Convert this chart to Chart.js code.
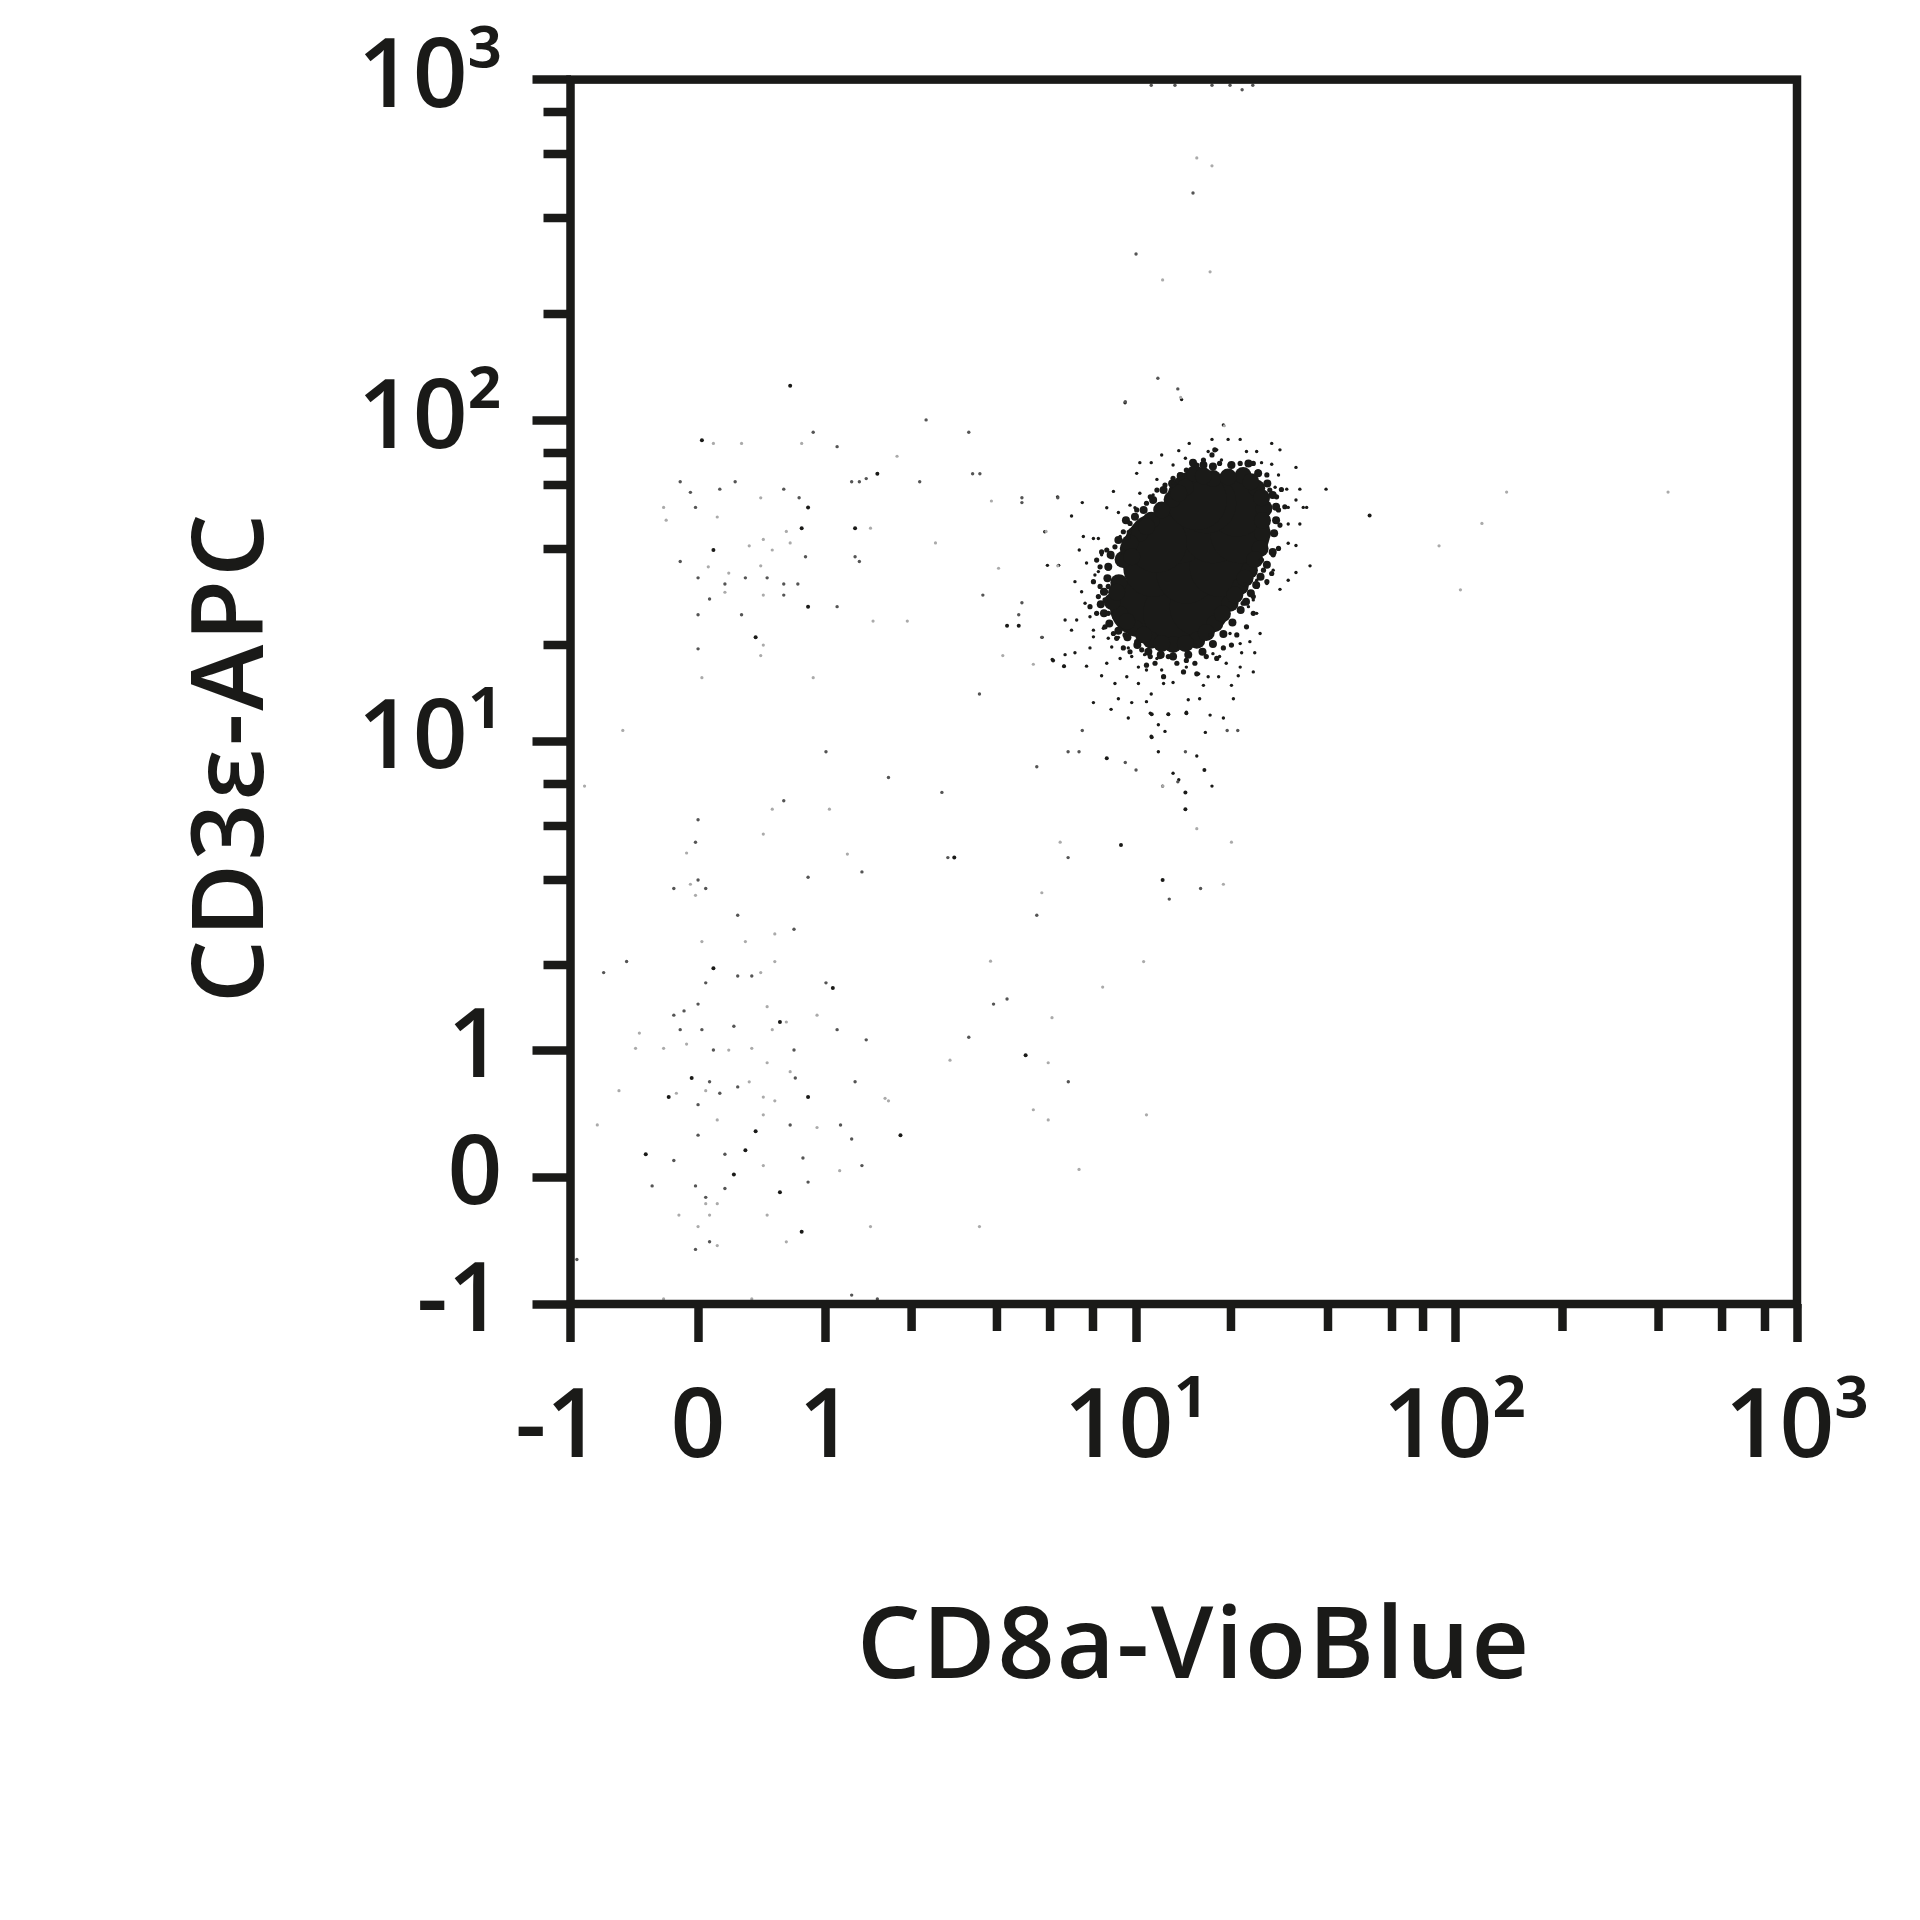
<!DOCTYPE html>
<html><head><meta charset="utf-8">
<style>html,body{margin:0;padding:0;background:#fff}canvas{display:block}</style>
<script src="https://cdn.jsdelivr.net/npm/chart.js@4/dist/chart.umd.js"></script>
</head><body><canvas id="c" width="1920" height="1920"></canvas>
<script>
// Axis titles
const xTitle = 'CD8a-VioBlue';
const yTitle = 'CD3ε-APC';
// Axis tick values
const majorTicks = [-1, 0, 1, 10, 100, 1000];
const minorTicks = [2, 4, 6, 8, 20, 40, 60, 80, 200, 400, 600, 800];
const tickLabels = {'-1': '-1', '0': '0', '1': '1', '10': '10¹', '100': '10²', '1000': '10³'};
// The display is biexponential: values and where they fall along each axis (0..1)
const scaleValues = [-1, 0, 1, 2, 4, 6, 8, 10, 20, 40, 60, 80, 100, 200, 400, 600, 800, 1000];
const xAxisFractions = [0, .1040, .2083, .2781, .3477, .3910, .4260, .4611, .5385, .6176, .6698, .6951, .7212, .8088, .8871, .9389, .9739, 1];
const yAxisFractions = [0, .1037, .2074, .2769, .3463, .3904, .4247, .4598, .5382, .6166, .6689, .6950, .7212, .8085, .8870, .9392, .9735, 1];

// Events as [CD8a-VioBlue, CD3e-APC]
const coreEvents = [[10.4,28],[13.9,26.6],[16.7,28],[11.8,36.3],[15.3,34.9],[18.8,36.3],[14.6,44.9],[18.1,44.9],[21.9,44.9],[21.2,53.3],[17.4,54.3],[12.2,42],[16.4,55.3]];
const rimEvents = [[16.2,67],[18.1,64],[22.5,66],[25.3,59],[26.8,52.7],[26.5,44.9],[26,40.2],[23.8,35.6],[21.9,32.2],[19.9,28.7],[18.3,24.5],[16.4,21],[13.9,20.1],[11.6,21],[9.95,23.5],[9.26,26.3],[8.9,29],[9.2,33],[9.4,37.8],[9.95,44.4],[11.6,49],[13.8,55.5],[15.2,59.3],[10.8,46.5],[9.64,40.2],[9.1,31],[9.57,24.9],[10.8,22.1],[12.7,20.3],[15.2,20.3],[17.4,22.6],[19.1,26.5],[20.8,30.4],[22.9,33.9],[24.9,37.8],[26.5,48.9],[26.3,56],[24.1,62],[19.7,65],[17.1,65.7],[14.5,57.4],[12.7,52.2],[10.4,44.9],[11.1,47],[9.72,41.8],[9.8,38.4]];
const edgeEvents = [[16,74],[18.1,71.5],[23.6,73.5],[27.5,61],[29.3,53.2],[28.9,44.9],[28.6,39.4],[26.1,34.2],[24.1,30.8],[22,27.3],[19.2,22.3],[17,19.3],[13.9,18.8],[11.3,19.3],[9.6,21.6],[8.76,24.5],[8.36,28.5],[8.67,33.9],[8.82,38.8],[9.53,49],[10.8,52.2],[12.9,58.4],[14.7,65.6],[17.1,72.5],[20.1,72.5],[25.6,67.3],[28.6,56.9],[29.3,49],[27.4,36.7],[25.2,32.5],[23.1,29],[20.3,24.7],[18.1,20.2],[15.5,19],[12.6,19],[10.14,20],[9.18,23],[8.51,26.6],[8.51,31.1],[8.71,36.3],[9.18,42.8],[9.95,50.1],[11.8,55.3],[13.8,61]];
const mottleEvents = [[8.87,38.4],[8.64,39.8],[8.4,39.4],[8.17,37.7],[8.33,36.3],[8.71,36],[8.02,33.2],[8.33,32.2],[8.71,32.2],[8.25,30.1],[8.56,29.4],[7.86,28],[8.17,26.6],[8.71,26.6],[8.56,23.8],[9.1,21.4],[9.49,22.1],[8.95,22.4],[9.41,19.7],[10.07,20.7],[9.72,19.3],[10.6,19.5],[11.5,18.8],[11.1,17.9],[12,18.1],[12.5,18.8],[13.4,18.8],[12.9,16.7],[14.3,18.1],[15.3,18.4],[16.2,18.1],[16.4,17],[15,17.2],[17.4,18.8],[18.5,18.6],[19.2,19.7],[20.1,20],[21.2,22.1],[23.2,23.8],[24.6,26.6],[22.5,28.7],[24.6,30.1],[25.3,32.2],[27.4,33.2],[26.7,35.6],[28.4,34.9],[26.3,37.7],[28.7,38.8],[29.8,40.2],[28.7,44.9],[30.1,47.5],[29.8,52.2],[31.1,53.2],[29.4,56.3],[28,58.4],[30.4,58.6],[27.4,66.3],[25.6,68.3],[24.6,73.5],[21.9,73.5],[19.9,72.5],[18.8,73.5],[18,78.8],[18.3,82],[17.1,75.6],[16.4,72.5],[15.3,69.4],[14.6,66.3],[13.9,64.2],[13.05,60],[12.2,58.4],[11.5,56.3],[11.1,54.3],[10.07,52.2],[9.72,48],[9.41,45.4],[9.26,42.8],[9.02,40.7],[9.64,43.9]];
const fringeEvents = [[21.9,88.5],[19.7,88.5],[18,88.5],[18.5,82],[17.6,81],[19,75.6],[17.1,74.6],[15.6,86],[14.5,81.5],[12.7,78.8],[13.9,72.5],[11.6,74],[10.4,74],[15.2,76.7],[23.2,81],[25.3,81],[28.4,86],[30.1,82],[28.4,73],[26.3,74],[33.4,71],[34.2,58.7],[39.6,58.7],[29.8,66.3],[29.1,59.3],[31.5,58.7],[33.4,55.3],[35.6,53],[34.9,53],[31.8,53],[34.2,47.8],[31.8,47.8],[30.1,47.2],[33.4,41.1],[31.8,41.8],[36.3,36.5],[33.4,35.1],[31.8,33.5],[30.1,31.6],[28.7,35.6],[27.4,32.8],[25.3,33.5],[22.9,32.8],[24.6,29.4],[23.6,28],[25.3,26.6],[26,22.4],[23.9,20.7],[24.9,19.2],[22.2,19.2],[21.9,17.7],[24.6,17.2],[21.5,16.8],[20.1,15.8],[20.5,14.4],[18.7,16.7],[17.6,16.7],[17.1,15.8],[16.7,14.4],[15.3,13],[15.5,14.3],[13.9,16.1],[12.9,16],[11.6,14.9],[10.25,16],[9.18,14.4],[9.8,14],[11.5,12.9],[13.4,12.8],[11.1,14.1],[8.02,14],[8.84,13.3],[9.64,12.4],[12.35,11.7],[13.05,11],[11.6,10.5],[17.3,10.9],[17.8,12.7],[19.2,12.4],[12.35,9.5],[16.4,9.3],[14.5,8.2],[12.8,7.9],[18,7.9],[13.9,8.5],[8.64,52.9],[9.95,52.9],[7.5,54.5],[6.35,56.3],[7,50.3],[9.18,51.4],[8.95,58],[10.07,67.3],[10.4,57.4],[11.8,56.9],[12.2,63.5],[13.9,61],[9.72,53.7],[8.02,43.3],[7.55,43.9],[8.25,43.3],[9.26,43.9],[9.64,45.4],[7.36,39.8],[6.4,36.6],[5.9,36.6],[8.4,38.8],[7.7,37.1],[8.25,35.3],[7.16,33.2],[7.47,31.1],[7.63,28.7],[7.86,25.9],[6.7,25.2],[7.24,25.2],[7,23.1],[8.02,23.1],[8.02,21.7],[8.48,23.5],[8.71,21.4],[5.7,21.6],[8.87,19.8],[9.26,18.6],[9.64,19.7],[7.16,19.2],[6.7,19],[6.1,18.5],[6.65,17.8],[7.7,17.8],[7.86,19.7],[8.4,16.8],[9.57,16.7],[10.25,17.7],[11.1,17.4],[12.7,17.4],[9.02,16],[8.64,18.1],[9.8,18.8],[10.9,19],[12.2,18.6],[13.9,18.6],[15.3,17.7],[16.6,17],[18.1,19.1],[19.5,18.1],[18.8,18.8],[21.9,20.3],[19.9,22.4],[17.8,22.1],[16.2,20],[10.4,20.7],[9.18,21.6],[8.56,26.3],[8.64,31.1],[8.09,34.6],[5.8,45.4],[9.49,117],[14.8,120],[19.2,97.5]];
const darkEvents = [[.72,133],[.03,88],[1.6,67],[.86,53],[.81,46.5],[1.34,46.5],[.12,39.8],[.86,28],[.45,21.6],[4.38,24],[4.82,24],[6.14,18.4],[6.65,17.8],[3.0,4.83],[.12,1.96],[1.08,1.73],[.64,1.33],[-.05,.78],[.86,.63],[.45,.36],[1.87,.33],[-.41,.18],[.37,.21],[.28,.02],[.64,-.12],[.81,-.43],[5.08,.96],[-.23,.63],[8.64,9.2],[11.65,12.8],[13.4,12.8],[15.3,12.9],[11.65,10.4],[17.2,8.65],[15.2,7.6],[15.2,6.8],[9.3,5.3],[12.8,4],[53,50.5]];
const midEvents = [[2.34,101],[.9,93],[3.34,93],[1.13,84],[-.14,62],[-.06,57.7],[.29,62],[.17,58.7],[.67,58.7],[.79,56],[-.02,53],[1.47,64],[1.3,62],[1.39,62],[2.19,62],[3.43,67],[3.6,67],[4.94,56],[4.94,54.5],[6.36,56],[-.14,37.4],[0,34],[.37,34],[.54,34],[.21,32.7],[.67,32.7],[.78,32.7],[.67,30.4],[.09,29.6],[0,26.3],[.34,26.3],[1.13,28],[.84,38.4],[1.34,38.4],[1.39,37.4],[3.67,30.4],[4.94,28.8],[4.82,26.3],[5.69,21.6],[0,19.6],[3.59,14.9],[1,9.5],[1.73,8.3],[2.71,7.6],[5.5,8.8],[6.84,9.5],[.67,7.2],[0,6.3],[2.85,4.83],[-.02,5.4],[0,4],[-.19,3.8],[.06,3.8],[.86,4.1],[1.42,4.3],[.31,3.17],[.75,2.84],[5.5,3.17],[6.84,4.83],[-.56,2.08],[-.74,1.91],[.31,1.87],[.42,1.87],[.06,1.79],[1,1.79],[0,1.54],[-.11,1.46],[-.19,1.41],[-.14,1.24],[.03,1.24],[.28,1.28],[1.13,1.24],[1.47,1.12],[3.92,1.54],[4.38,1.6],[3.34,1.15],[.12,1],[.75,1],[.76,.78],[1.34,.75],[.31,.71],[.09,.75],[.17,.66],[0,.57],[.72,.41],[1.17,.41],[0,.33],[1.3,.3],[.21,.18],[.82,.15],[-.19,.13],[1.42,.09],[-.36,-.07],[-.02,-.07],[.86,-.04],[.21,-.09],[.06,-.16],[.09,-.51],[-.02,-.57],[1.3,-.93],[1.6,-.96],[-.95,-.65],[22.3,937],[11.6,965],[14.1,965],[18,965],[19.9,965],[24.5,965],[16,478],[10,325],[12.3,140],[14.4,130],[9.5,118],[7.5,11.1],[7.35,9.5],[9.5,9],[10,8.65],[15.2,9.5],[19.6,11.1],[21.4,11.1],[14.4,8.1],[16.8,3.8],[13.5,3.55],[6.85,.75]];
const faintEvents = [[.12,86],[.34,86],[.81,86],[-.27,53],[-.25,49],[.15,50],[.49,56],[.69,45.5],[.51,43],[.72,41.9],[.58,39.8],[.4,41],[1.52,46.5],[2.56,41.9],[1.83,78],[.08,36.3],[.24,35],[.21,31],[.51,30.4],[.49,36.5],[4.06,36],[5.85,45.5],[6.36,36.5],[1.55,25],[1.95,25],[3.87,55],[.49,18.9],[.51,20],[.03,16.6],[.9,16.6],[4.22,18.9],[5.37,18],[-.59,11.1],[-.89,7.9],[.58,6.8],[1.04,6.8],[.51,5.7],[-.09,5],[-.06,3.9],[-.02,3.64],[1.25,4.96],[6.47,5.4],[5.69,3.7],[.03,2.55],[.37,2.55],[.6,2.73],[.6,2.08],[.49,1.91],[3.85,2.09],[.54,1.51],[.69,1.33],[.93,1.41],[.58,1.24],[-.46,1.2],[-.49,1.02],[-.27,1.02],[-.09,1.07],[.24,1],[.42,1.02],[.54,.9],[.72,.83],[6.09,1.38],[2.9,.92],[5.93,.9],[.4,.75],[-.62,.68],[.06,.68],[-.17,.66],[.51,.63],[.6,.6],[1.69,.62],[1.73,.6],[5.37,.53],[5.93,.45],[.15,.45],[.51,.49],[-.79,.41],[.93,.39],[.51,.09],[1.16,.05],[.15,-.21],[.06,-.21],[-.15,-.3],[.09,-.3],[.54,-.3],[0,-.39],[1.52,-.39],[3.59,-.39],[.69,-.51],[.15,-.54],[-.27,-.96],[.42,-.96],[16.4,588],[18,563],[12.8,271],[17.8,288],[14.7,122],[19.3,97],[12.8,7.9],[16.4,5.9],[20.1,5.4],[19.2,3.9],[10.8,2.08],[8.45,1.74],[11.1,.49],[7.35,.06],[148,57.8],[430,57.8],[105,31.5],[90,41],[125,48]];

const INK = '#1a1a18';
const FONT = '"Open Sans", sans-serif';
const LINE = 8.5;

class BiexScale extends Chart.LinearScale {
  static id = 'biex';
  determineDataLimits() { this.min = -1; this.max = 1000; }
  buildTicks() {
    return majorTicks.map(v => ({value: v, major: true}))
      .concat(minorTicks.map(v => ({value: v, major: false})))
      .sort((a, b) => a.value - b.value);
  }
  fraction(v) {
    const f = this.options.fractions;
    if (v <= scaleValues[0]) return 0;
    for (let i = 1; i < scaleValues.length; i++) {
      if (v <= scaleValues[i]) {
        const t = (v - scaleValues[i - 1]) / (scaleValues[i] - scaleValues[i - 1]);
        return f[i - 1] + t * (f[i] - f[i - 1]);
      }
    }
    return 1;
  }
  getPixelForValue(v) { return this.getPixelForDecimal(this.fraction(v)); }
}
Chart.register(BiexScale);

const pts = a => a.map(p => ({x: p[0], y: p[1]}));
const events = (label, data, radius, color) => ({
  label, data: pts(data), showLine: false,
  pointRadius: radius, pointBorderWidth: 0, pointBackgroundColor: color, pointHoverRadius: radius
});

const framePlugin = {
  id: 'frame',
  afterDraw(chart) {
    const {ctx, chartArea: a, scales} = chart;
    ctx.save();
    ctx.strokeStyle = INK;
    ctx.lineWidth = LINE;
    ctx.strokeRect(a.left, a.top, a.right - a.left, a.bottom - a.top);
    // short minor tick marks
    ctx.beginPath();
    for (const v of minorTicks) {
      const px = scales.x.getPixelForValue(v);
      ctx.moveTo(px, a.bottom); ctx.lineTo(px, a.bottom + 27);
      const py = scales.y.getPixelForValue(v);
      ctx.moveTo(a.left, py); ctx.lineTo(a.left - 27, py);
    }
    ctx.stroke();
    // axis titles
    ctx.fillStyle = INK;
    ctx.font = '600 100px ' + FONT;
    ctx.textBaseline = 'alphabetic';
    ctx.textAlign = 'center';
    ctx.letterSpacing = '2px';
    ctx.fillText(xTitle, 1194, 1678);
    ctx.translate(263, 757);
    ctx.rotate(-Math.PI / 2);
    ctx.letterSpacing = '3px';
    ctx.fillText(yTitle, 0, 0);
    ctx.restore();
  }
};

const axis = (fractions, padding, label, fit) => ({
  type: 'biex', fractions,
  border: {display: false},
  grid: {drawOnChartArea: false, drawTicks: true, tickLength: 38, tickWidth: LINE,
         tickColor: c => (c.tick && c.tick.major) ? INK : 'rgba(0,0,0,0)'},
  ticks: {autoSkip: false, maxRotation: 0, minRotation: 0, padding, color: INK,
          font: {family: FONT, size: 96, weight: '600'},
          callback: label},
  afterFit: fit
});

new Chart(document.getElementById('c'), {
  type: 'scatter',
  data: {datasets: [
    events('faint', faintEvents, 1.6, '#aaaaaa'),
    events('mid', midEvents, 1.7, '#555555'),
    events('dark', darkEvents, 2, INK),
    events('fringe', fringeEvents, 1.7, INK),
    events('mottle', mottleEvents, 2.6, INK),
    events('edge', edgeEvents, 4, INK),
    events('rim', rimEvents, 8.5, INK),
    events('core', coreEvents, 30, INK)
  ]},
  options: {
    responsive: false, animation: false, events: [],
    layout: {padding: {top: 79.6, right: 123, left: 0, bottom: 0}},
    plugins: {legend: {display: false}, tooltip: {enabled: false}, title: {display: false}},
    scales: {
      x: axis(xAxisFractions, 30, v => v === -1 ? tickLabels['-1'] + '\u00A0' : (tickLabels[String(v)] || ''),
              s => { s.height = 616; s.paddingLeft = 0; s.paddingRight = 0; }),
      y: axis(yAxisFractions, 30, v => tickLabels[String(v)] || '',
              s => { s.width = 570.5; s.paddingTop = 0; s.paddingBottom = 0; })
    }
  },
  plugins: [framePlugin]
});
</script></body></html>
